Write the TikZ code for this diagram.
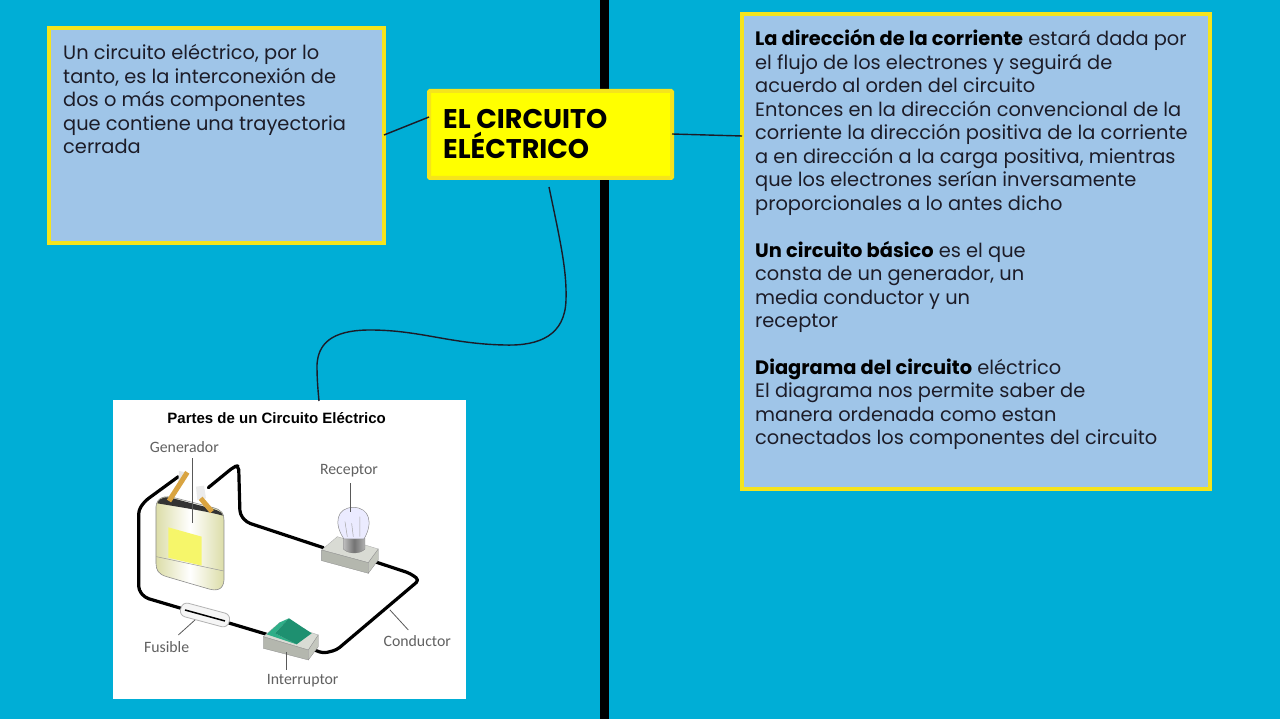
\documentclass[tikz,border=0pt]{standalone}
\usepackage{fontspec}
\setmainfont{Poppins}
\newfontfamily\partsfont{Liberation Sans}
\newfontfamily\labelfont{Carlito}
\definecolor{seablue}{HTML}{00AED6}
\definecolor{boxblue}{HTML}{9FC5E8}
\definecolor{boxyellow}{HTML}{F5E41C}
\definecolor{titleyellow}{HTML}{FFFF00}
\definecolor{inkdark}{HTML}{1C1C28}
\definecolor{cellgreen}{HTML}{DCDDA8}
\definecolor{cellyellow}{HTML}{F6F66A}
\definecolor{clipbrown}{HTML}{D9A441}
\definecolor{rockergreen}{HTML}{1E9070}
\definecolor{rockerlight}{HTML}{2FAE88}
\definecolor{blockfront}{HTML}{B4B7AE}
\definecolor{blocktop}{HTML}{D9DBD4}
\definecolor{blockside}{HTML}{C4C7BE}
\newcommand{\lead}[1]{\textcolor{black}{\textbf{#1}}}
\tikzset{
  infobox/.style={draw=boxyellow,line width=4pt,fill=boxblue,inner sep=0pt,anchor=north west},
  infotext/.style={text=inkdark,font=\fontsize{19.4}{23.47}\selectfont,align=left,inner sep=0pt,anchor=north west},
  titlebox/.style={draw=boxyellow,line width=4pt,fill=titleyellow,rounded corners=1pt,inner sep=0pt,anchor=north west,
    minimum width=243pt,minimum height=87pt},
  partlabel/.style={text=black!62,font=\labelfont\fontsize{15.8}{18}\selectfont,inner sep=0pt},
  leader/.style={black!65,line width=0.8pt},
  link/.style={line width=1.4pt,inkdark},
  wire/.style={line width=3.2pt,line join=round,line cap=round,rounded corners=4pt},
  boxtop/.style={fill=blocktop,draw=black!35,line width=0.3pt},
  boxfront/.style={fill=blockfront,draw=black!45,line width=0.3pt},
  boxside/.style={fill=blockside,draw=black!45,line width=0.3pt}
}
\begin{document}
\begin{tikzpicture}[x=1pt,y=-1pt]
  \useasboundingbox (0,0) rectangle (1280,719);
  \fill[seablue] (0,0) rectangle (1280,719);
  \fill[black] (600,0) rectangle (609,719);

  % left box
  \node[infobox,minimum width=335pt,minimum height=215pt] (leftbox) at (47,26) {};
  \node[infotext] (lefttext) at (63,44.5) {Un circuito eléctrico, por lo\\tanto, es la interconexión de\\dos o más componentes\\que contiene una trayectoria\\cerrada};

  % right box
  \node[infobox,minimum width=468pt,minimum height=475pt] (rightbox) at (740,12) {};
  \node[infotext] (righttext) at (755,29.5) {\lead{La dirección de la corriente} estará dada por\\el flujo de los electrones y seguirá de\\acuerdo al orden del circuito\\Entonces en la dirección convencional de la\\corriente la dirección positiva de la corriente\\a en dirección a la carga positiva, mientras\\que los electrones serían inversamente\\proporcionales a lo antes dicho\\[23.47pt]\lead{Un circuito básico} es el que\\consta de un generador, un\\media conductor y un\\receptor\\[23.47pt]\lead{Diagrama del circuito} eléctrico\\El diagrama nos permite saber de\\manera ordenada como estan\\conectados los componentes del circuito};

  % title
  \node[titlebox] (title) at (427,89) {};
  \node[infotext,font=\bfseries\fontsize{27}{30}\selectfont,text=black] (titletext) at (443,109) {EL CIRCUITO\\ELÉCTRICO};

  % parts image
  \node[fill=white,inner sep=0pt,anchor=north west,minimum width=353pt,minimum height=299pt] (partsimage) at (113,400) {};

  % connectors
  \coordinate (curvestart) at (549,187);
  \coordinate (leftend) at (384,135);
  \coordinate (titleleft) at (429,117);
  \coordinate (titleright) at (672,134);
  \coordinate (rightend) at (742,136);
  \coordinate (imagetop) at (319,401);
  \draw[link] (leftend) -- (titleleft);
  \draw[link] (titleright) -- (rightend);
  \draw[link] (curvestart) .. controls (560,240) and (567,270) .. (566,300)
    .. controls (565,335) and (540,346) .. (505,345)
    .. controls (450,344) and (420,330) .. (370,330)
    .. controls (330,330) and (318,345) .. (317,365)
    .. controls (317,380) and (318,390) .. (imagetop);

  % circuit, in units of a third of a pixel
  \begin{scope}[shift={(110,395)},x=0.3333pt,y=-0.3333pt]
    \node[font=\partsfont\bfseries\fontsize{15}{16}\selectfont,inner sep=0pt] (partstitle) at (500,70) {Partes de un Circuito Eléctrico};

    % wires
    \draw[wire] (205,245) -- (105,318) -- (86,345) -- (86,585) -- (105,608) -- (230,645);
    \draw[wire] (350,682) -- (470,718);
    \draw[wire] (600,760) -- (640,775) -- (680,765) -- (928,555) -- (900,535) -- (785,497);
    \draw[wire] (640,458) -- (410,382) -- (390,358) -- (386,212) -- (372,215) -- (295,278);

    % generator
    \draw[black!45,line width=0.6pt,left color=cellgreen,right color=cellgreen,middle color=white]
      (138,335) .. controls (140,310) and (160,298) .. (200,310) -- (310,338)
      .. controls (335,345) and (342,355) .. (342,375) -- (342,555)
      .. controls (340,585) and (320,590) .. (290,580) -- (170,545)
      .. controls (145,538) and (138,525) .. (138,505) -- cycle;
    \fill[black!80] (142,325) .. controls (150,305) and (170,303) .. (200,313) -- (310,342)
      .. controls (330,348) and (338,355) .. (338,362) .. controls (300,350) and (200,335) .. (142,325) -- cycle;
    \fill[cellyellow] (175,397) -- (275,425) -- (275,512) -- (175,488) -- cycle;
    \draw[black!40,line width=0.5pt] (139,485) -- (341,528);
    \fill[black!10] (207,228) -- (228,232) -- (222,265) -- (205,262) -- cycle;
    \draw[line width=5pt,clipbrown] (232,232) -- (177,318);
    \fill[black!8] (258,275) -- (282,272) -- (288,310) -- (262,315) -- cycle;
    \draw[line width=5pt,clipbrown] (272,310) -- (306,350);

    % receptor
    \draw[boxtop] (635,465) -- (682,425) -- (805,462) -- (775,503) -- cycle;
    \draw[boxfront] (635,465) -- (775,503) -- (775,535) -- (635,497) -- cycle;
    \draw[boxside] (775,503) -- (805,462) -- (805,495) -- (775,535) -- cycle;
    \draw[black!50,left color=black!25,right color=black!30,middle color=black!55,line width=0.3pt] (700,430) -- (700,462)
      .. controls (715,478) and (750,478) .. (765,462) -- (765,430) -- cycle;
    \draw[black!45,fill=blue!8!white,line width=0.5pt] (702,432) .. controls (670,385) and (680,338) .. (730,337)
      .. controls (780,338) and (790,385) .. (762,432) -- cycle;
    \draw[black!35,line width=0.5pt] (712,425) -- (705,380) (750,425) -- (750,365) (730,425) -- (725,385);

    % fuse
    \node[draw=black!30,fill=black!4,line width=0.8pt,rounded corners=6pt,rotate=-15,minimum width=150pt*0.3333,minimum height=42pt*0.3333,inner sep=0pt] (fuse) at (285,660) {};
    \draw[line width=1.5pt] (225,645) -- (345,678);

    % switch
    \draw[boxtop] (460,725) -- (510,682) -- (625,720) -- (595,765) -- cycle;
    \draw[boxfront] (460,725) -- (595,765) -- (595,795) -- (460,760) -- cycle;
    \draw[boxside] (595,765) -- (625,720) -- (625,755) -- (595,795) -- cycle;
    \fill[rockerlight] (470,718) -- (510,682) -- (537,670) -- (495,715) -- (560,748) -- cycle;
    \fill[rockergreen] (495,715) -- (537,670) -- (605,715) -- (560,748) -- cycle;

    % labels
    \node[partlabel] (generador) at (223,155) {Generador};
    \node[partlabel] (receptor) at (717,227) {Receptor};
    \node[partlabel] (fusible) at (170,757) {Fusible};
    \node[partlabel] (interruptor) at (578,858) {Interruptor};
    \node[partlabel] (conductor) at (922,737) {Conductor};
    \coordinate (generadortip) at (248,385);
    \coordinate (receptortip) at (720,350);
    \coordinate (fusibletip) at (255,675);
    \coordinate (interruptortip) at (530,770);
    \coordinate (conductortip) at (840,645);
    \draw[leader] (248,190) -- (generadortip);
    \draw[leader] (720,265) -- (receptortip);
    \draw[leader] (205,720) -- (fusibletip);
    \draw[leader] (530,825) -- (interruptortip);
    \draw[leader] (895,705) -- (conductortip);
  \end{scope}
\end{tikzpicture}
\end{document}
